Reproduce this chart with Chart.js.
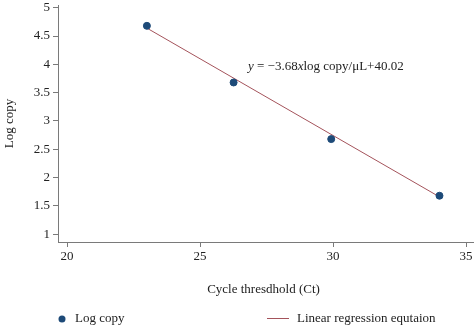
<!DOCTYPE html>
<html>
<head>
<meta charset="utf-8">
<script src="https://cdn.jsdelivr.net/npm/chart.js@4.4.1/dist/chart.umd.min.js"></script>
<style>
  html, body { margin: 0; padding: 0; background: #fff; }
  #wrap { width: 474px; height: 327px; position: relative; }
</style>
</head>
<body>
<div id="wrap"><canvas id="c" width="474" height="327"></canvas></div>
<script>
// Standard curve: Ct against log copy number
const cycleThreshold = [23.0, 26.26, 29.93, 34.0];
const logCopy = [4.68, 3.68, 2.68, 1.68];

// Fitted regression line, end points
const fitCt = [23.0, 34.0];
const fitLogCopy = [4.64, 1.66];

const xTicks = [20, 25, 30, 35];
const yTicks = [1, 1.5, 2, 2.5, 3, 3.5, 4, 4.5, 5];

const equationParts = [
  { text: 'y', italic: true },
  { text: ' = \u22123.68', italic: false },
  { text: 'x', italic: true },
  { text: 'log copy/\u03bcL+40.02', italic: false }
];

const seriesNames = ['Log copy', 'Linear regression equtaion'];
const axisTitles = { x: 'Cycle thresdhold (Ct)', y: 'Log copy' };

const FONT = '"Liberation Serif", "DejaVu Serif", serif';
const DOT = '#1d4a78';
const LINE = '#a4535b';
const AXIS = '#7a7a7a';
const TEXT = '#222222';

const overlay = {
  id: 'overlay',
  afterDraw(chart) {
    const ctx = chart.ctx;
    const xs = chart.scales.x, ys = chart.scales.y;
    ctx.save();
    // regression equation
    let px = xs.getPixelForValue(26.8);
    const py = ys.getPixelForValue(3.96);
    ctx.fillStyle = TEXT;
    ctx.textBaseline = 'middle';
    ctx.textAlign = 'left';
    equationParts.forEach(p => {
      ctx.font = (p.italic ? 'italic ' : '') + '13px ' + FONT;
      ctx.fillText(p.text, px, py);
      px += ctx.measureText(p.text).width;
    });
    // legend
    const ly = 319;
    ctx.font = '13px ' + FONT;
    ctx.fillStyle = DOT;
    ctx.beginPath();
    ctx.arc(62, ly, 3.5, 0, Math.PI * 2);
    ctx.fill();
    ctx.fillStyle = TEXT;
    ctx.fillText(seriesNames[0], 75, ly);
    ctx.strokeStyle = LINE;
    ctx.lineWidth = 1;
    ctx.beginPath();
    ctx.moveTo(267, ly - 0.5);
    ctx.lineTo(289, ly - 0.5);
    ctx.stroke();
    ctx.fillText(seriesNames[1], 297, ly);
    // x axis line runs on to the right edge
    const area = chart.chartArea;
    ctx.strokeStyle = AXIS;
    ctx.beginPath();
    ctx.moveTo(area.right, Math.round(area.bottom) + 0.5);
    ctx.lineTo(chart.width, Math.round(area.bottom) + 0.5);
    ctx.stroke();
    ctx.restore();
  }
};

new Chart(document.getElementById('c'), {
  type: 'scatter',
  data: {
    datasets: [
      {
        label: seriesNames[1],
        type: 'line',
        data: fitCt.map((x, i) => ({ x, y: fitLogCopy[i] })),
        borderColor: LINE,
        borderWidth: 1,
        pointRadius: 0,
        fill: false,
        order: 2
      },
      {
        label: seriesNames[0],
        data: cycleThreshold.map((x, i) => ({ x, y: logCopy[i] })),
        backgroundColor: DOT,
        borderColor: DOT,
        pointRadius: 3.5,
        order: 1
      }
    ]
  },
  options: {
    responsive: false,
    animation: false,
    devicePixelRatio: 1,
    layout: { padding: { left: 0, right: 0, top: 0, bottom: 23 } },
    plugins: {
      legend: { display: false },
      tooltip: { enabled: false }
    },
    scales: {
      x: {
        type: 'linear',
        min: 19.658,
        max: 35.11,
        afterBuildTicks: s => { s.ticks = xTicks.map(v => ({ value: v })); },
        afterFit: s => { s.height = 62; s.paddingLeft = 0; s.paddingRight = 0; },
        ticks: { color: TEXT, font: { family: FONT, size: 13 }, padding: 2, callback: v => String(v) },
        grid: { display: true, drawOnChartArea: false, drawTicks: true, tickLength: 5, color: AXIS },
        border: { display: true, color: AXIS, width: 1 },
        title: { display: true, text: axisTitles.x, color: TEXT, font: { family: FONT, size: 13 }, padding: { top: 0, bottom: 7 } }
      },
      y: {
        type: 'linear',
        min: 0.863,
        max: 5.048,
        afterBuildTicks: s => { s.ticks = yTicks.map(v => ({ value: v })); },
        afterFit: s => { s.width = 58; s.paddingTop = 0; s.paddingBottom = 0; },
        ticks: { color: TEXT, font: { family: FONT, size: 13 }, padding: 3, callback: v => String(v) },
        grid: { display: true, drawOnChartArea: false, drawTicks: true, tickLength: 5, color: AXIS },
        border: { display: true, color: AXIS, width: 1 },
        title: { display: true, text: axisTitles.y, color: TEXT, font: { family: FONT, size: 13 }, padding: { top: 2, bottom: 0 } }
      }
    }
  },
  plugins: [overlay]
});
</script>
</body>
</html>
